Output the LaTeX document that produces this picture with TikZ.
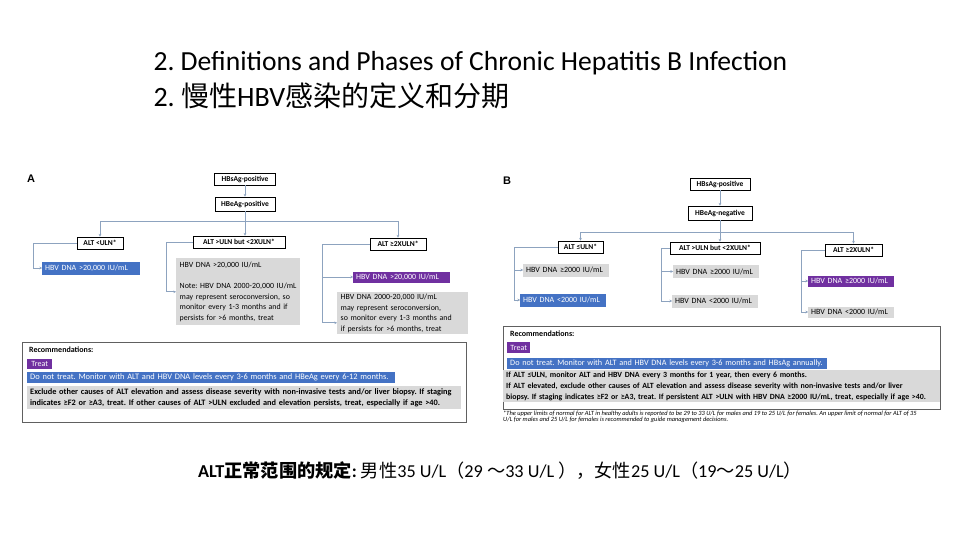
\documentclass[tikz,border=0pt]{standalone}
\usepackage{fontspec}
\setmainfont{Carlito}
\newfontfamily\cjk{Noto Sans CJK SC}
\newfontfamily\labfont{Liberation Sans}
\usetikzlibrary{arrows.meta, positioning}
\definecolor{dnablue}{HTML}{4472C4}
\definecolor{dnapurple}{HTML}{7030A0}
\definecolor{dnagray}{HTML}{D9D9D9}
\definecolor{linkblue}{HTML}{8DA3BF}
\definecolor{recedge}{HTML}{606060}
\frenchspacing

\tikzset{
  altbox/.style={draw=black, line width=0.9pt, fill=white, inner sep=0pt,
    minimum height=12pt, font=\fontsize{7.5}{8}\selectfont\bfseries},
  dnabox/.style={anchor=west, inner xsep=3pt, inner ysep=0pt, minimum height=13pt,
    align=left, font=\fontsize{8}{9}\selectfont},
  notebox/.style={anchor=north west, fill=dnagray, inner xsep=3.5pt, align=left,
    font=\fontsize{7.9}{10.5}\selectfont},
  recbox/.style={anchor=north west, draw=recedge, line width=0.8pt, inner sep=0pt},
  link/.style={draw=linkblue, line width=0.8pt},
  treatbox/.style={anchor=north west, fill=dnapurple, text=white, inner sep=0pt,
    font=\fontsize{8}{9}\selectfont}
}

\begin{document}
\begin{tikzpicture}[x=1pt, y=-1pt, >={Stealth[length=2.6pt, width=2.6pt]}]

\useasboundingbox (0,0) rectangle (960,540);
\fill[white] (0,0) rectangle (960,540);

% Title
\node[anchor=west, font=\fontsize{27.6}{32}\selectfont] (title) at (150,63)
  {2. Definitions and Phases of Chronic Hepatitis B Infection};
\node[anchor=west, font=\fontsize{28}{32}\selectfont] (subtitle) at (150,96)
  {2. {\cjk 慢性}HBV{\cjk 感染的定义和分期}};

% ── Panel A ──
\node[font=\labfont\bfseries\fontsize{11}{12}\selectfont] (labA) at (31,179) {A};

\node[altbox, minimum width=61pt] (hsA) at (245,179) {HBsAg-positive};
\node[altbox, minimum width=60pt, minimum height=14pt] (heA) at (245,204) {HBeAg-positive};
\coordinate (splitA) at (245,221);

\node[altbox, minimum width=46pt] (altlowA) at (100,243) {ALT <ULN*};
\node[altbox, minimum width=92pt] (altmidA) at (239,242) {ALT >ULN but <2XULN*};
\node[altbox, minimum width=56pt] (althighA) at (398,244) {ALT ≥2XULN*};

\node[dnabox, fill=dnablue, text=white, text width=92pt] (dnaA1) at (42,268)
  {HBV DNA >20,000 IU/mL};
\node[notebox, text width=117pt, inner ysep=4pt] (grayA1) at (176,258)
  {HBV DNA >20,000 IU/mL\\[10.5pt]
   Note: HBV DNA 2000-20,000 IU/mL\\
   may represent seroconversion, so\\
   monitor every 1-3 months and if\\
   persists for >6 months, treat};
\node[dnabox, fill=dnapurple, text=white, text width=91pt, minimum height=11pt] (dnaA2) at (353,277)
  {HBV DNA >20,000 IU/mL};
\node[notebox, text width=124pt, inner ysep=2pt] (grayA2) at (337,292)
  {HBV DNA 2000-20,000 IU/mL\\
   may represent seroconversion,\\
   so monitor every 1-3 months and\\
   if persists for >6 months, treat};

% connectors A
\draw[link, ->] (hsA.south) -- (heA.north);
\draw[link] (heA.south) -- (splitA);
\draw[link, ->] (splitA) -| (altlowA.north);
\draw[link, ->] (splitA) -| (althighA.north);
\draw[link, ->] (splitA) -- (altmidA.north -| splitA);
\draw[link, ->] (altlowA.west) -- ++(-43,0) |- (dnaA1.west);
\draw[link, ->] (altmidA.west) -- ++(-26,0) |- (grayA1.west);
\draw[link, ->] (althighA.west) -- ++(-47,0) |- (dnaA2.west);
\draw[link, ->] (althighA.west) -- ++(-47,0) |- ([yshift=-9.5pt]grayA2.west);

% Recommendations A
\node[recbox, minimum width=444pt, minimum height=80pt] (recA) at (22,342) {};
\node[anchor=west, inner sep=0pt, font=\fontsize{8}{9}\selectfont\bfseries] (rectitleA) at (29,350)
  {Recommendations:};
\node[treatbox, minimum width=25pt, minimum height=10.5pt] (treatA) at (27,358.5) {Treat};
\node[anchor=north west, fill=dnablue, text=white, inner xsep=3pt, inner ysep=0pt,
      minimum height=11pt, text width=362pt, font=\fontsize{8.4}{9}\selectfont] (notreatA) at (27,372)
  {Do not treat. Monitor with ALT and HBV DNA levels every 3-6 months and HBeAg every 6-12 months.};
\node[anchor=north west, fill=dnagray, inner xsep=3pt, inner ysep=2pt, text width=428pt,
      align=left, font=\fontsize{8.3}{11.5}\selectfont\bfseries] (excludeA) at (27,386)
  {Exclude other causes of ALT elevation and assess disease severity with non-invasive tests and/or liver biopsy. If staging\\
   indicates ≥F2 or ≥A3, treat. If other causes of ALT >ULN excluded and elevation persists, treat, especially if age >40.};

% ── Panel B ──
\node[font=\labfont\bfseries\fontsize{11}{12}\selectfont] (labB) at (507,181) {B};

\node[altbox, minimum width=60pt] (hsB) at (720,184) {HBsAg-positive};
\node[altbox, minimum width=64pt, minimum height=14pt] (heB) at (720,213) {HBeAg-negative};
\coordinate (splitB) at (720,232);

\node[altbox, minimum width=45pt] (altlowB) at (580.5,247) {ALT ≤ULN*};
\node[altbox, minimum width=90pt] (altmidB) at (715,248) {ALT >ULN but <2XULN*};
\node[altbox, minimum width=57pt] (althighB) at (853.5,250) {ALT ≥2XULN*};

\node[dnabox, fill=dnagray, text width=80pt] (dnaB1) at (523,270) {HBV DNA ≥2000 IU/mL};
\node[dnabox, fill=dnablue, text=white, text width=80pt] (dnaB2) at (520,300) {HBV DNA <2000 IU/mL};
\node[dnabox, fill=dnagray, text width=80pt] (dnaB3) at (673,271.5) {HBV DNA ≥2000 IU/mL};
\node[dnabox, fill=dnagray, text width=80pt] (dnaB4) at (672,301) {HBV DNA <2000 IU/mL};
\node[dnabox, fill=dnapurple, text=white, text width=80pt, minimum height=11pt] (dnaB5) at (808,281)
  {HBV DNA ≥2000 IU/mL};
\node[dnabox, fill=dnagray, text width=80pt, minimum height=11pt] (dnaB6) at (808,312)
  {HBV DNA <2000 IU/mL};

% connectors B
\draw[link, ->] (hsB.south) -- (heB.north);
\draw[link] (heB.south) -- (splitB);
\draw[link, ->] (splitB) -| (altlowB.north);
\draw[link, ->] (splitB) -| (althighB.north);
\draw[link, ->] (splitB) -- (altmidB.north -| splitB);
\draw[link, ->] (altlowB.west) -- ++(-43,0) |- (dnaB1.west);
\draw[link, ->] (altlowB.west) -- ++(-43,0) |- (dnaB2.west);
\draw[link, ->] (altmidB.west) -- ++(-8,0) |- (dnaB3.west);
\draw[link, ->] (altmidB.west) -- ++(-8,0) |- (dnaB4.west);
\draw[link, ->] (althighB.west) -- ++(-23,0) |- (dnaB5.west);
\draw[link, ->] (althighB.west) -- ++(-23,0) |- (dnaB6.west);

% Recommendations B
\node[recbox, minimum width=437pt, minimum height=83pt] (recB) at (503,326) {};
\node[anchor=west, inner sep=0pt, font=\fontsize{8}{9}\selectfont\bfseries] (rectitleB) at (510,334)
  {Recommendations:};
\node[treatbox, minimum width=23pt, minimum height=11pt] (treatB) at (507,342) {Treat};
\node[anchor=north west, fill=dnablue, text=white, inner xsep=3pt, inner ysep=0pt,
      minimum height=11pt, text width=314pt, font=\fontsize{8.2}{9}\selectfont] (notreatB) at (507,358)
  {Do not treat. Monitor with ALT and HBV DNA levels every 3-6 months and HBsAg annually.};
\node[anchor=north west, fill=dnagray, inner xsep=3pt, inner ysep=2pt, text width=431pt,
      align=left, font=\fontsize{7.9}{10.7}\selectfont\bfseries] (monitorB) at (503,370)
  {If ALT ≤ULN, monitor ALT and HBV DNA every 3 months for 1 year, then every 6 months.\\
   If ALT elevated, exclude other causes of ALT elevation and assess disease severity with non-invasive tests and/or liver\\
   biopsy. If staging indicates ≥F2 or ≥A3, treat. If persistent ALT >ULN with HBV DNA ≥2000 IU/mL, treat, especially if age >40.};
\node[anchor=north west, inner sep=0pt, align=left, font=\fontsize{6.4}{6.6}\selectfont\itshape] (noteB) at (503,410.5)
  {*The upper limits of normal for ALT in healthy adults is reported to be 29 to 33 U/L for males and 19 to 25 U/L for females. An upper limit of normal for ALT of 35\\
   U/L for males and 25 U/L for females is recommended to guide management decisions.};

% Footer
\node[font=\fontsize{18.2}{20}\selectfont] (altnorm) at (500,471)
  {{\bfseries ALT{\cjk 正常范围的规定}:} {\cjk 男性}35 U/L{\cjk （}29 {\cjk ～}33 U/L {\cjk ），女性}25 U/L{\cjk （}19{\cjk ～}25 U/L{\cjk ）}};

\end{tikzpicture}
\end{document}
